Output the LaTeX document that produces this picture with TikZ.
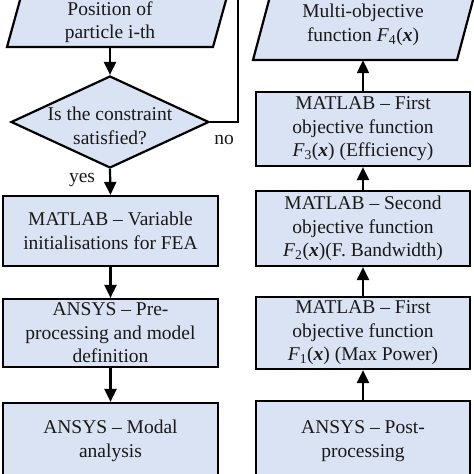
\documentclass[tikz,border=0pt]{standalone}
\usepackage{fontspec}
\setmainfont{Liberation Serif}
\usetikzlibrary{arrows.meta,shapes.geometric}
\definecolor{boxfill}{RGB}{218,227,243}
\newcommand{\Fx}[1]{\textit{F}\textsubscript{#1}(\textbf{\textit{x}})}
\begin{document}
\begin{tikzpicture}[x=1pt,y=-1pt,
  txt/.style={align=center,font=\fontsize{19.5}{23.5}\selectfont,inner sep=0pt,text=black!90},
  box/.style={txt,draw=black,fill=boxfill,line width=2.2pt},
  lbox/.style={box,minimum width=215pt},
  rbox/.style={box,minimum width=214pt},
  shapefill/.style={draw=black,fill=boxfill,line width=2.2pt},
  arr/.style={line width=2.2pt,-{Triangle[length=13pt,width=12pt]}},
  plain/.style={line width=2.2pt}]
\useasboundingbox (0,0) rectangle (474,474);
\clip (0,0) rectangle (474,474);

% left parallelogram
\filldraw[shapefill] (7,47) -- (213,47) -- (228.8,-10) -- (22.8,-10) -- cycle;
\node[txt,minimum height=50pt] (p1) at (110,22) {Position of\\particle i-th};

% diamond
\node[diamond,shapefill,minimum width=198pt,minimum height=92pt,inner sep=0pt] (d) at (110,122) {};
\node[txt] (dt) at (110,126) {Is the constraint\\satisfied?};

% left boxes
\node[lbox,minimum height=70pt] (b1) at (110.5,231) {MATLAB -- Variable\\initialisations for FEA};
\node[lbox,minimum height=68pt] (b2) at (110.5,333) {ANSYS -- Pre-\\processing and model\\definition};
\node[lbox,minimum height=76pt] (b3) at (110.5,441) {ANSYS -- Modal\\analysis};

% right parallelogram
\filldraw[shapefill] (253,60) -- (457,60) -- (475.7,-10) -- (271.7,-10) -- cycle;
\node[txt,minimum height=70pt] (p4) at (363,25) {Multi-objective\\function \Fx{4}};

% right boxes
\node[rbox,minimum height=74pt] (r3) at (363,129) {MATLAB -- First\\objective function\\\Fx{3} (Efficiency)};
\node[rbox,minimum height=75pt] (r2) at (363,228.5) {MATLAB -- Second\\objective function\\\Fx{2}(F. Bandwidth)};
\node[rbox,minimum height=72pt] (r1) at (363,333) {MATLAB -- First\\objective function\\\Fx{1} (Max Power)};
\node[rbox,minimum height=80pt] (r0) at (363,441) {ANSYS -- Post-\\processing};

% labels
\node[txt] (yes) at (82,180) {yes};
\node[txt] (no) at (224,140) {no};

% connectors
\draw[arr] (p1.south) -- (d.north);
\draw[arr] (d.south) -- (b1.north);
\draw[arr] (b1.south) -- (b2.north);
\draw[arr] (b2.south) -- (b3.north);
\draw[arr] (r0.north) -- (r1.south);
\draw[arr] (r1.north) -- (r2.south);
\draw[arr] (r2.north) -- (r3.south);
\draw[arr] (r3.north) -- (p4.south);
\coordinate (nocorner) at (238,122);
\coordinate (notop) at (238,-10);
\draw[plain] (d.east) -- (nocorner) -- (notop);
\end{tikzpicture}
\end{document}
